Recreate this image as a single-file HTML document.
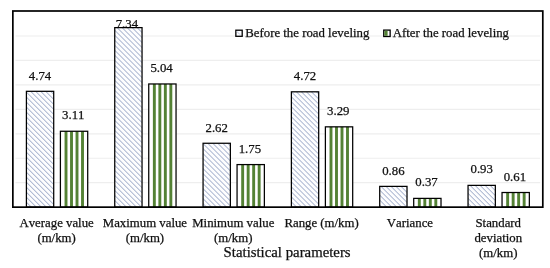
<!DOCTYPE html>
<html lang="en">
<head>
<meta charset="utf-8">
<title>Statistical parameters</title>
<style>
html,body{margin:0;padding:0;background:#fff;}
body{width:550px;height:268px;overflow:hidden;}
svg{display:block;}
text{font-family:"Liberation Serif","Times New Roman",serif;fill:#111;stroke:#111;stroke-width:0.25px;font-kerning:none;}
</style>
</head>
<body>
<svg width="550" height="268" viewBox="0 0 550 268">
<defs>
<pattern id="hb" width="3.54" height="3.54" patternUnits="userSpaceOnUse" patternTransform="rotate(45)"><rect width="3.54" height="3.54" fill="#fdfdfe"/><rect x="0" y="0" width="3.54" height="0.8" fill="#9ba8c8"/></pattern>
</defs>
<rect width="550" height="268" fill="#fff"/>
<line x1="15.45" x2="540.20" y1="182.70" y2="182.70" stroke="#eeeeee" stroke-width="1.2"/>
<line x1="15.45" x2="540.20" y1="158.25" y2="158.25" stroke="#eeeeee" stroke-width="1.2"/>
<line x1="15.45" x2="540.20" y1="133.80" y2="133.80" stroke="#eeeeee" stroke-width="1.2"/>
<line x1="15.45" x2="540.20" y1="109.35" y2="109.35" stroke="#eeeeee" stroke-width="1.2"/>
<line x1="15.45" x2="540.20" y1="84.90" y2="84.90" stroke="#eeeeee" stroke-width="1.2"/>
<line x1="15.45" x2="540.20" y1="60.45" y2="60.45" stroke="#eeeeee" stroke-width="1.2"/>
<line x1="15.45" x2="540.20" y1="36.00" y2="36.00" stroke="#eeeeee" stroke-width="1.2"/>
<text x="40.06" y="79.92" font-size="12.8" text-anchor="middle">4.74</text>
<text x="73.26" y="119.36" font-size="12.8" text-anchor="middle">3.11</text>
<text x="126.89" y="27.90" font-size="12.8" text-anchor="middle">7.34</text>
<text x="161.59" y="72.07" font-size="12.8" text-anchor="middle">5.04</text>
<text x="216.71" y="131.86" font-size="12.8" text-anchor="middle">2.62</text>
<text x="249.91" y="152.68" font-size="12.8" text-anchor="middle">1.75</text>
<text x="305.04" y="80.41" font-size="12.8" text-anchor="middle">4.72</text>
<text x="338.24" y="114.94" font-size="12.8" text-anchor="middle">3.29</text>
<text x="393.36" y="174.98" font-size="12.8" text-anchor="middle">0.86</text>
<text x="426.56" y="186.49" font-size="12.8" text-anchor="middle">0.37</text>
<text x="481.69" y="173.06" font-size="12.8" text-anchor="middle">0.93</text>
<text x="514.89" y="180.61" font-size="12.8" text-anchor="middle">0.61</text>
<rect x="26.41" y="91.32" width="27.3" height="115.83" fill="url(#hb)" stroke="#000" stroke-width="1.25"/>
<rect x="60.41" y="131.26" width="27.3" height="75.89" fill="#fff"/>
<rect x="64.56" y="131.26" width="2.9" height="75.89" fill="#548235"/>
<rect x="70.06" y="131.26" width="2.9" height="75.89" fill="#548235"/>
<rect x="75.56" y="131.26" width="2.9" height="75.89" fill="#548235"/>
<rect x="81.06" y="131.26" width="2.9" height="75.89" fill="#548235"/>
<rect x="60.41" y="131.26" width="27.3" height="75.89" fill="none" stroke="#000" stroke-width="1.25"/>
<rect x="114.74" y="27.62" width="27.3" height="179.53" fill="url(#hb)" stroke="#000" stroke-width="1.25"/>
<rect x="148.74" y="83.97" width="27.3" height="123.18" fill="#fff"/>
<rect x="152.89" y="83.97" width="2.9" height="123.18" fill="#548235"/>
<rect x="158.39" y="83.97" width="2.9" height="123.18" fill="#548235"/>
<rect x="163.89" y="83.97" width="2.9" height="123.18" fill="#548235"/>
<rect x="169.39" y="83.97" width="2.9" height="123.18" fill="#548235"/>
<rect x="148.74" y="83.97" width="27.3" height="123.18" fill="none" stroke="#000" stroke-width="1.25"/>
<rect x="203.06" y="143.26" width="27.3" height="63.89" fill="url(#hb)" stroke="#000" stroke-width="1.25"/>
<rect x="237.06" y="164.58" width="27.3" height="42.57" fill="#fff"/>
<rect x="241.21" y="164.58" width="2.9" height="42.57" fill="#548235"/>
<rect x="246.71" y="164.58" width="2.9" height="42.57" fill="#548235"/>
<rect x="252.21" y="164.58" width="2.9" height="42.57" fill="#548235"/>
<rect x="257.71" y="164.58" width="2.9" height="42.57" fill="#548235"/>
<rect x="237.06" y="164.58" width="27.3" height="42.57" fill="none" stroke="#000" stroke-width="1.25"/>
<rect x="291.39" y="91.81" width="27.3" height="115.34" fill="url(#hb)" stroke="#000" stroke-width="1.25"/>
<rect x="325.39" y="126.84" width="27.3" height="80.31" fill="#fff"/>
<rect x="329.54" y="126.84" width="2.9" height="80.31" fill="#548235"/>
<rect x="335.04" y="126.84" width="2.9" height="80.31" fill="#548235"/>
<rect x="340.54" y="126.84" width="2.9" height="80.31" fill="#548235"/>
<rect x="346.04" y="126.84" width="2.9" height="80.31" fill="#548235"/>
<rect x="325.39" y="126.84" width="27.3" height="80.31" fill="none" stroke="#000" stroke-width="1.25"/>
<rect x="379.71" y="186.38" width="27.3" height="20.77" fill="url(#hb)" stroke="#000" stroke-width="1.25"/>
<rect x="413.71" y="198.39" width="27.3" height="8.76" fill="#fff"/>
<rect x="417.86" y="198.39" width="2.9" height="8.76" fill="#548235"/>
<rect x="423.36" y="198.39" width="2.9" height="8.76" fill="#548235"/>
<rect x="428.86" y="198.39" width="2.9" height="8.76" fill="#548235"/>
<rect x="434.36" y="198.39" width="2.9" height="8.76" fill="#548235"/>
<rect x="413.71" y="198.39" width="27.3" height="8.76" fill="none" stroke="#000" stroke-width="1.25"/>
<rect x="468.04" y="185.37" width="27.3" height="21.78" fill="url(#hb)" stroke="#000" stroke-width="1.25"/>
<rect x="502.04" y="192.51" width="27.3" height="14.64" fill="#fff"/>
<rect x="506.19" y="192.51" width="2.9" height="14.64" fill="#548235"/>
<rect x="511.69" y="192.51" width="2.9" height="14.64" fill="#548235"/>
<rect x="517.19" y="192.51" width="2.9" height="14.64" fill="#548235"/>
<rect x="522.69" y="192.51" width="2.9" height="14.64" fill="#548235"/>
<rect x="502.04" y="192.51" width="27.3" height="14.64" fill="none" stroke="#000" stroke-width="1.25"/>
<rect x="12.85" y="11.0" width="529.95" height="196.15" fill="none" stroke="#000" stroke-width="1.7"/>
<rect x="235.85" y="30.2" width="6.35" height="6.1" fill="#fbfcfe" stroke="#000" stroke-width="1.3"/>
<line x1="236.6" y1="31.2" x2="240" y2="34.6" stroke="#aab4d0" stroke-width="0.8"/>
<text x="245.3" y="37" font-size="12.8">Before the road leveling</text>
<rect x="383.75" y="30.1" width="6.4" height="6.4" fill="#fff" stroke="#000" stroke-width="1.3"/>
<rect x="384.4" y="30.75" width="3.2" height="5.1" fill="#548235"/>
<text x="392.8" y="37" font-size="12.8">After the road leveling</text>
<text x="56.61" y="227.30" font-size="12.8" text-anchor="middle">Average value</text>
<text x="56.61" y="241.90" font-size="12.8" text-anchor="middle">(m/km)</text>
<text x="144.94" y="227.30" font-size="12.8" text-anchor="middle">Maximum value</text>
<text x="144.94" y="241.90" font-size="12.8" text-anchor="middle">(m/km)</text>
<text x="233.26" y="227.30" font-size="12.8" text-anchor="middle">Minimum value</text>
<text x="233.26" y="241.90" font-size="12.8" text-anchor="middle">(m/km)</text>
<text x="321.59" y="227.30" font-size="12.8" text-anchor="middle">Range (m/km)</text>
<text x="409.91" y="227.30" font-size="12.8" text-anchor="middle">Variance</text>
<text x="498.24" y="227.30" font-size="12.8" text-anchor="middle">Standard</text>
<text x="498.24" y="241.90" font-size="12.8" text-anchor="middle">deviation</text>
<text x="498.24" y="256.50" font-size="12.8" text-anchor="middle">(m/km)</text>
<text x="287.1" y="257.4" font-size="14.8" text-anchor="middle">Statistical parameters</text>
</svg>
</body>
</html>
